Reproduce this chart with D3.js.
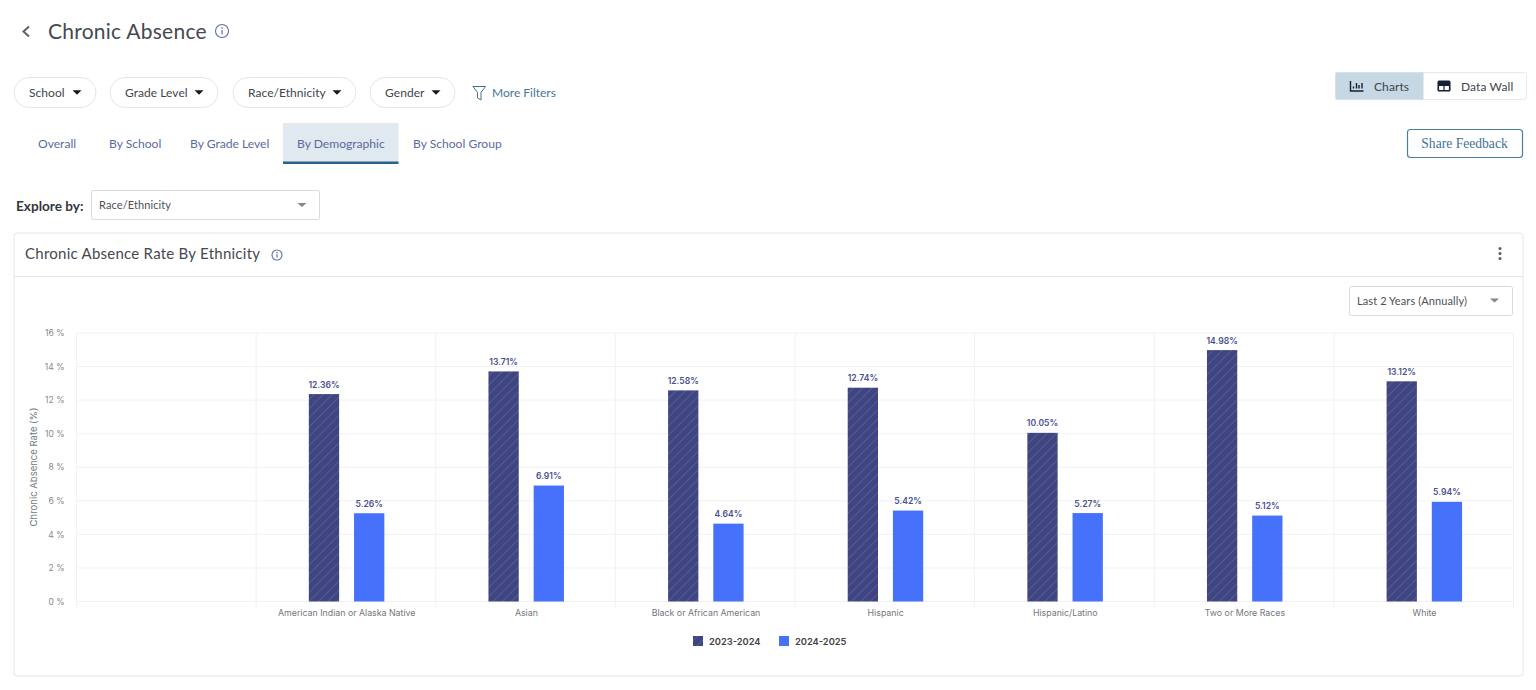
<!DOCTYPE html>
<html><head><meta charset="utf-8">
<script src="https://cdnjs.cloudflare.com/ajax/libs/d3/7.8.5/d3.min.js"></script>
<style>
html,body{margin:0;padding:0;background:#fff;width:1536px;height:690px;overflow:hidden;font-family:Lato,sans-serif}
svg{position:absolute;left:0;top:0}
.domain{display:none}
</style></head><body><svg id="c" width="1536" height="690"></svg>
<script>
const categories=["","American Indian or Alaska Native","Asian","Black or African American","Hispanic","Hispanic/Latino","Two or More Races","White"];
const seriesNames=["2023-2024","2024-2025"];
const values2023=[null,12.36,13.71,12.58,12.74,10.05,14.98,13.12];
const values2024=[null,5.26,6.91,4.64,5.42,5.27,5.12,5.94];
const yTicks=[0,2,4,6,8,10,12,14,16];
const filters=["School","Grade Level","Race/Ethnicity","Gender"];
const tabs=["Overall","By School","By Grade Level","By Demographic","By School Group"];
const colors=["#3f4580","#4671fb"];

const svg=d3.select("#c");
const UI="Lato,sans-serif", CH="Inter,sans-serif";
function txt(x,y,s,size,fill,opt={}){return svg.append("text").attr("x",x).attr("y",y).text(s).attr("font-size",size).attr("fill",fill)
 .attr("font-family",opt.f||UI).attr("font-weight",opt.w||400).attr("text-anchor",opt.a||"start").attr("letter-spacing",opt.ls||0);}
function box(x,y,w,h,r,fill,stroke,sw=1){return svg.append("rect").attr("x",x).attr("y",y).attr("width",w).attr("height",h).attr("rx",r).attr("fill",fill).attr("stroke",stroke).attr("stroke-width",sw);}
function caret(cx,cy,c,w=4.5,h=4.5){svg.append("path").attr("d",`M${cx-w},${cy-h/2}L${cx+w},${cy-h/2}L${cx},${cy+h/2}Z`).attr("fill",c);}
function info(cx,cy,r,c){svg.append("circle").attr("cx",cx).attr("cy",cy).attr("r",r).attr("fill","none").attr("stroke",c).attr("stroke-width",1.1);
 svg.append("line").attr("x1",cx).attr("x2",cx).attr("y1",cy-r*.15).attr("y2",cy+r*.5).attr("stroke",c).attr("stroke-width",1.2);
 svg.append("circle").attr("cx",cx).attr("cy",cy-r*.45).attr("r",.8).attr("fill",c);}

// header
svg.append("path").attr("d","M29,26.5L23.5,31.5L29,36.5").attr("fill","none").attr("stroke","#5b6270").attr("stroke-width",2);
txt(48,38.5,"Chronic Absence",21,"#45494f",{ls:.25});
info(222,31,6.5,"#5f6bab");

// filters
const fx=[[14,82],[110,108],[233,123],[370,85]];
filters.forEach((f,i)=>{const [x,w]=fx[i];
 box(x,77.5,w,30,15,"#fff","#e3e6ea");
 txt(x+15,97,f,12,"#41454c",{ls:.05});
 caret(x+w-19,92.5,"#17191e");});
svg.append("path").attr("d","M473,86.5H485.5L481,92.5V100L477.5,98V92.5Z").attr("fill","none").attr("stroke","#3f7292").attr("stroke-width",1);
txt(492,97,"More Filters",12,"#47759a");

// toggle
box(1335.5,72.5,191,27,3,"#fff","#e6e9ed");
svg.append("rect").attr("x",1335.5).attr("y",72.5).attr("width",88).attr("height",27).attr("fill","#c6d8e3");
svg.append("path").attr("d","M1350.5,81V91H1363.5M1353.5,86.5V88.5M1356.5,83V88.5M1359,85V88.5M1362,83V88.5").attr("fill","none").attr("stroke","#172033").attr("stroke-width",1.4);
txt(1374,90.5,"Charts",12,"#41454c",{ls:.1});
box(1437.5,80.5,13,11,1.5,"#172033","none");
svg.append("path").attr("d","M1438.5,85.5H1449.5V90.5H1438.5ZM1444,85.5V90.5").attr("fill","#fff").attr("stroke","#172033").attr("stroke-width",1.2);
txt(1461,90.5,"Data Wall",12,"#41454c",{ls:.1});

// tabs
const tx=[38,109,190,297,413];
svg.append("rect").attr("x",283).attr("y",123).attr("width",115.5).attr("height",39).attr("fill","#e0e9f0");
svg.append("rect").attr("x",283).attr("y",161.5).attr("width",115.5).attr("height",2.5).attr("fill","#2b6287");
tabs.forEach((t,i)=>txt(tx[i],148,t,12.1,"#5c6aa0"));

// share
box(1407.5,129.5,115,28,3,"#fff","#4d7d9d",1.2);
txt(1464.5,148,"Share Feedback",13.6,"#41729a",{f:"Liberation Serif,serif",a:"middle"});

// explore
txt(16,211,"Explore by:",13.6,"#33373d",{w:700,f:"Lato,sans-serif"});
box(91.5,190.5,228,29,2,"#fff","#d6d9de");
txt(99,209,"Race/Ethnicity",11,"#4d5157",{ls:.1});
caret(302,205,"#83868b",4.5,4);

// card
box(14,233,1509,443,3,"#fff","#e3e5e8");
svg.append("line").attr("x1",14).attr("x2",1523).attr("y1",276.5).attr("y2",276.5).attr("stroke","#e3e5e8");
txt(25,259,"Chronic Absence Rate By Ethnicity",15,"#45494f",{ls:.25});
info(277,255,5,"#5f6bab");
[-5,0,5].forEach(d=>svg.append("circle").attr("cx",1500).attr("cy",253.5+d).attr("r",1.5).attr("fill","#5a5e64"));
box(1349.5,286.5,163,29,2,"#fff","#d6d9de");
txt(1357,305,"Last 2 Years (Annually)",11,"#4d5157",{ls:.1});
caret(1494.5,300.5,"#83868b",4.5,4);

// chart
const defs=svg.append("defs");
const pat=defs.append("pattern").attr("id","hatch").attr("patternUnits","userSpaceOnUse").attr("width",6.5).attr("height",6.5).attr("patternTransform","rotate(45)");
pat.append("rect").attr("width",6.5).attr("height",6.5).attr("fill",colors[0]);
pat.append("rect").attr("width",.8).attr("height",6.5).attr("fill","#5a6098");
const pm={l:76.5,r:1513.5,t:333,b:601.5};
const x=d3.scaleBand().domain(categories).range([pm.l,pm.r]);
const y=d3.scaleLinear().domain([0,16]).range([pm.b,pm.t]);
const grid="#f1f2f4";
// grid
svg.append("g").selectAll("line").data(yTicks).join("line").attr("x1",pm.l).attr("x2",pm.r).attr("y1",d=>y(d)).attr("y2",d=>y(d)).attr("stroke",grid);
svg.append("g").selectAll("line").data(categories).join("line").attr("x1",d=>x(d)).attr("x2",d=>x(d)).attr("y1",pm.t).attr("y2",pm.b+7).attr("stroke",grid);
svg.append("line").attr("x1",pm.r).attr("x2",pm.r).attr("y1",pm.t).attr("y2",pm.b+7).attr("stroke",grid);
// axes
const ya=svg.append("g").attr("transform",`translate(${pm.l},0)`).call(d3.axisLeft(y).tickValues(yTicks).tickSize(0).tickPadding(12).tickFormat(d=>d+" %"));
ya.selectAll("text").attr("font-size",8.5).attr("fill","#85888d").attr("font-family",CH);
const xa=svg.append("g").attr("transform",`translate(0.8,${pm.b})`).call(d3.axisBottom(x).tickSize(0).tickPadding(8));
xa.selectAll("text").attr("font-size",8.8).attr("fill","#74777c").attr("font-family",CH);
svg.append("text").attr("transform",`translate(36.5,467) rotate(-90)`).attr("text-anchor","middle").attr("font-size",9.5).attr("fill","#74777c").attr("font-family",CH).text("Chronic Absence Rate (%)");
// bars
const inner=d3.scaleBand().domain(seriesNames).range([0,75.5]).paddingInner(.33);
[values2023,values2024].forEach((vals,si)=>{
 const data=categories.map((c,i)=>({c,v:vals[i]})).filter(d=>d.v!=null);
 const off=d=>x(d.c)+x.bandwidth()/2-37.1+inner(seriesNames[si]);
 svg.append("g").selectAll("rect").data(data).join("rect")
  .attr("x",off).attr("width",inner.bandwidth()).attr("y",d=>y(d.v)).attr("height",d=>y(0)-y(d.v))
  .attr("fill",si?colors[1]:"url(#hatch)");
 svg.append("g").selectAll("text").data(data).join("text")
  .attr("x",d=>off(d)+inner.bandwidth()/2).attr("y",d=>y(d.v)-6.5).attr("text-anchor","middle")
  .attr("font-size",8.6).attr("font-weight",600).attr("fill","#4a5090").attr("font-family",CH).text(d=>d.v.toFixed(2)+"%");
});
// legend
const lx=[693,779];
seriesNames.forEach((s,i)=>{
 svg.append("rect").attr("x",lx[i]).attr("y",636).attr("width",10).attr("height",10).attr("fill",i?colors[1]:"url(#hatch)");
 txt(lx[i]+16,645,s,9.3,"#3f4247",{f:CH,w:600});
});
</script></body></html>
